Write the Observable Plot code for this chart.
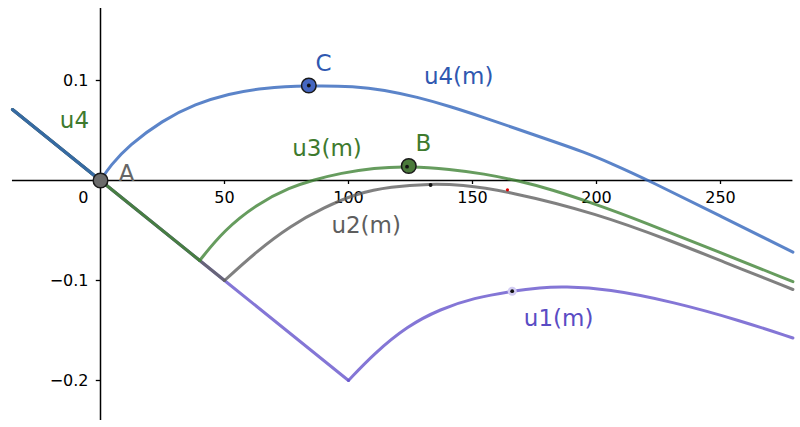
<!DOCTYPE html>
<html>
<head>
<meta charset="utf-8">
<script src="https://cdn.jsdelivr.net/npm/d3@7"></script>
<script src="https://cdn.jsdelivr.net/npm/@observablehq/plot@0.6"></script>
<style>
  html, body { margin: 0; padding: 0; background: #fff; }
  svg { display: block; font-family: "DejaVu Sans", sans-serif; }
</style>
</head>
<body>
<div id="chart"></div>
<script>
// Shared straight branch
const lineX = [-35.5, 0, 40, 50, 100];
const lineY = [0.071, 0, -0.08, -0.1, -0.2];

// Curved branches
const u1X = [100, 110.2, 123.7, 137.1, 150.5, 166, 177.4, 186.8, 204.3, 231.2, 258.1, 279.2];
const u1Y = [-0.2, -0.1733, -0.1455, -0.1285, -0.1175, -0.1105, -0.107, -0.106, -0.1082, -0.1215, -0.1402, -0.1575];

const u2X = [50, 63.2, 76.6, 90, 103.5, 116.9, 133.1, 145.2, 164, 200, 231.2, 250, 279.2];
const u2Y = [-0.1, -0.0703, -0.0453, -0.027, -0.0127, -0.006, -0.0033, -0.0042, -0.0105, -0.0328, -0.0614, -0.0801, -0.109];

const u3X = [40, 49.7, 63.2, 76.6, 86.0, 96.8, 110.2, 124.3, 141.1, 154.6, 168.0, 181.5, 200, 217.7, 250, 279.2];
const u3Y = [-0.08, -0.05, -0.0233, -0.0067, 0.0007, 0.0073, 0.0127, 0.0143, 0.0114, 0.0067, 0, -0.0087, -0.0239, -0.0402, -0.0722, -0.1011];

const u4X = [0, 4.0, 11.4, 24.9, 38.3, 51.7, 65.2, 84, 102.8, 114.2, 127.7, 141.1, 154.6, 168, 181.5, 194.9, 205.6, 221.1, 250, 279.2];
const u4Y = [0, 0.015, 0.035, 0.060, 0.0767, 0.0867, 0.0927, 0.095, 0.0943, 0.0907, 0.0835, 0.074, 0.063, 0.0515, 0.040, 0.0285, 0.0175, 0, -0.0355, -0.0717];

const seriesNames = ["u1", "u2", "u3", "u4"];
const kinkX = [100, 50, 40, 0];
const seriesColors = ["#6554cc", "#606060", "#408336", "#3265bb"];

const xTicks = [50, 100, 150, 200, 250];
const yTicks = [0.1, -0.1, -0.2];
const yTickLabels = ["0.1", "−0.1", "−0.2"];

// Named points
const pointNames = ["A", "C", "B"];
const pointX = [0, 84, 124.3];
const pointY = [0, 0.095, 0.0145];
const pointFill = ["#6b6b6b", "#4466c0", "#4a7a3a"];

// small markers
const dotX = [84, 123.6, 133.1, 166];
const dotY = [0.095, 0.0138, -0.0045, -0.1107];
const redX = [164.1];
const redY = [-0.0093];

// Labels (left edge, baseline)
const labelText = ["A", "C", "u4(m)", "u3(m)", "B", "u2(m)", "u1(m)", "u4"];
const labelX = [7.4, 86.7, 130.4, 77.3, 127.0, 93.1, 170.7, -16.4];
const labelY = [0.0, 0.110, 0.097, 0.025, 0.030, -0.052, -0.1457, 0.0523];
const labelColor = ["#666666", "#2f58b0", "#2f58b0", "#3e7a2e", "#3e7a2e", "#5e5e5e", "#5a4cc4", "#3e7a2e"];

// Build tables
const straight = [];
const curved = [];
seriesNames.forEach((s, i) => {
  lineX.forEach((x, j) => { if (x <= kinkX[i]) straight.push({s, i, x, y: lineY[j]}); });
});
const cx = [u1X, u2X, u3X, u4X], cy = [u1Y, u2Y, u3Y, u4Y];
seriesNames.forEach((s, i) => {
  cx[i].forEach((x, j) => curved.push({s, i, x, y: cy[i][j]}));
});
const points = pointNames.map((n, i) => ({n, x: pointX[i], y: pointY[i], fill: pointFill[i]}));
const dots = dotX.map((x, i) => ({x, y: dotY[i]}));
const reds = redX.map((x, i) => ({x, y: redY[i]}));
const labels = labelText.map((t, i) => ({t, x: labelX[i], y: labelY[i], c: labelColor[i]}));

const marks = [
  Plot.ruleY([0], {x1: -35.5, x2: 279.2, stroke: "#000", strokeWidth: 1.5}),
  Plot.ruleX([0], {y1: -0.24, y2: 0.172, stroke: "#000", strokeWidth: 1.5}),
  Plot.ruleX(xTicks, {y1: 0, y2: -0.004, stroke: "#000", strokeWidth: 1.3}),
  Plot.ruleY(yTicks, {x1: 0, x2: -1.7, stroke: "#000", strokeWidth: 1.3}),
  Plot.text(xTicks, {x: d => d, y: 0, dy: 17, text: d => String(d), fontSize: 16, fill: "#000"}),
  Plot.text(["0"], {x: 0, y: 0, dx: -12, dy: 17, text: d => d, textAnchor: "end", fontSize: 16, fill: "#000"}),
  Plot.text(yTicks, {x: 0, y: d => d, dx: -12, text: (d, i) => yTickLabels[i], textAnchor: "end", fontSize: 16, fill: "#000"})
];
seriesNames.forEach((s, i) => {
  marks.push(Plot.line(straight.filter(d => d.i === i), {x: "x", y: "y", stroke: seriesColors[i], strokeWidth: 3, strokeOpacity: 0.8}));
  marks.push(Plot.line(curved.filter(d => d.i === i), {x: "x", y: "y", stroke: seriesColors[i], strokeWidth: 3, strokeOpacity: 0.8, curve: "basis"}));
});
marks.push(
  Plot.dot([dots[3]], {x: "x", y: "y", r: 4.5, fill: "#d2ccf2", stroke: "none"}),
  Plot.dot(points, {x: "x", y: "y", r: 7.3, fill: "fill", stroke: "#1a1a1a", strokeWidth: 1.5}),
  Plot.dot(dots, {x: "x", y: "y", r: 1.9, fill: "#111", stroke: "none"}),
  Plot.dot(reds, {x: "x", y: "y", r: 1.6, fill: "#e00000", stroke: "none"}),
  Plot.text(labels, {x: "x", y: "y", text: "t", fill: "c", textAnchor: "start", lineAnchor: "bottom", fontSize: 23})
);

const chart = Plot.plot({
  width: 800,
  height: 427,
  margin: 0,
  x: {domain: [-100 / 2.48, 700 / 2.48], axis: null},
  y: {domain: [-0.247, 0.18], axis: null},
  style: {fontFamily: "DejaVu Sans, sans-serif", background: "#fff"},
  marks
});
document.getElementById("chart").appendChild(chart);
</script>
</body>
</html>
